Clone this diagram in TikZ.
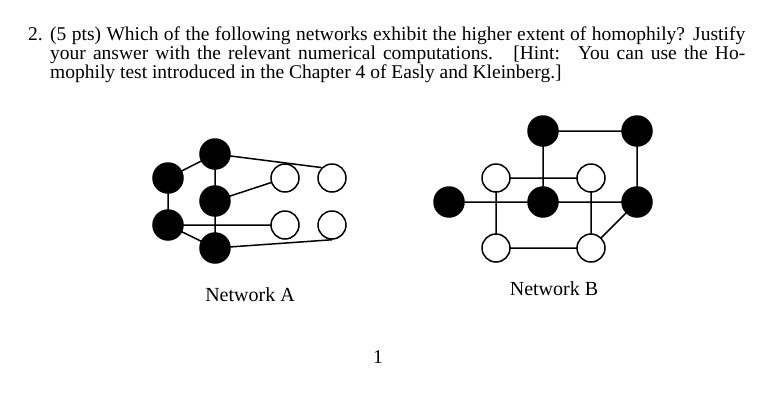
\documentclass[tikz,border=0pt]{standalone}
\usepackage{fontspec}
\setmainfont{Liberation Serif}
\usetikzlibrary{backgrounds}
\begin{document}
\begin{tikzpicture}[x=1pt,y=-1pt,
 bn/.style={circle,fill=black,draw=black,line width=1.5pt,minimum size=30pt,inner sep=0pt},
 wn/.style={circle,fill=white,draw=black,line width=1.5pt,minimum size=28pt,inner sep=0pt},
 ed/.style={line width=1.5pt}]
\useasboundingbox (0,0) rectangle (782,408);
\node[anchor=north west,inner sep=0pt] (n2) at (28,27) {\fontsize{19.5}{24}\selectfont 2.};
\node[anchor=north west,inner sep=0pt,text width=695pt,align=justify] (para) at (50,27)
 {\fontsize{19.5}{24}\selectfont (5 pts) Which of the following networks exhibit the higher extent of homophily? Justify\linebreak your answer with the relevant numerical computations. \ [Hint: \ You can use the Ho-\linebreak mophily test introduced in the Chapter 4 of Easly and Kleinberg.]};
% Network A
\node[bn] (a1) at (215,154) {};
\node[bn] (a2) at (168,178) {};
\node[bn] (a3) at (215,201) {};
\node[bn] (a4) at (168,225) {};
\node[bn] (a5) at (215,248) {};
\node[wn] (w1) at (285,178) {};
\node[wn] (w2) at (332,178) {};
\node[wn] (w3) at (285,225) {};
\node[wn] (w4) at (332,225) {};
% Network B
\node[bn] (b1) at (543,131) {};
\node[bn] (b2) at (637,131) {};
\node[bn] (b3) at (449,202) {};
\node[bn] (b4) at (543,202) {};
\node[bn] (b5) at (637,202) {};
\node[wn] (w5) at (496,178) {};
\node[wn] (w6) at (591,178) {};
\node[wn] (w7) at (496,248) {};
\node[wn] (w8) at (591,248) {};
\begin{pgfonlayer}{background}
\draw[ed] (a2.center)--(a1.center) (a1.center)--(a3.center) (a1.center)--(w2.north west) (a3.center)--(w1.center) (a2.center)--(a4.center) (a4.center)--(w3.center) (a4.center)--(a5.center) (a3.center)--(a5.center) (a5.center)--(w4.south);
\draw[ed] (b1.center)--(b2.center) (b1.center)--(b4.center) (b2.center)--(b5.center) (w5.center)--(w6.center) (b3.center)--(b4.center) (b4.center)--(b5.center) (w5.center)--(w7.center) (w6.center)--(w8.center) (w7.center)--(w8.center) (w8.center)--(b5.center);
\end{pgfonlayer}
\node[font=\fontsize{20}{22}\selectfont] (la) at (250,295) {Network A};
\node[font=\fontsize{20}{22}\selectfont] (lb) at (554,289) {Network B};
\node[font=\fontsize{19.5}{22}\selectfont] (pg) at (378,357) {1};
\end{tikzpicture}
\end{document}
